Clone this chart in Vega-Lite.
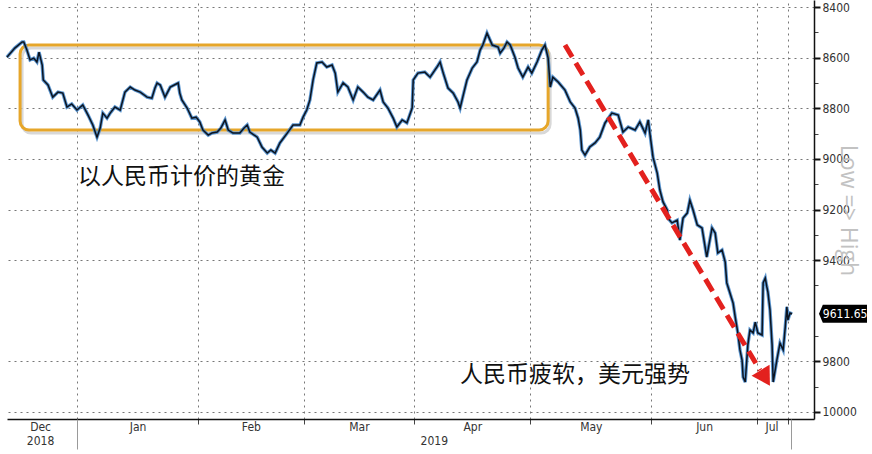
{
  "$schema": "https://vega.github.io/schema/vega-lite/v6.json",
  "width": 807,
  "height": 419,
  "autosize": "none",
  "padding": {"left": 7, "top": 0, "right": 58, "bottom": 35},
  "background": "white",
  "config": {
    "view": {"stroke": null},
    "axis": {"labelFont": "DejaVu Sans Condensed", "labelFontSize": 12, "labelColor": "#333333", "labelOverlap": false, "labelFlush": false}
  },
  "datasets": {
    "gold": [
      {"d": -13.3, "v": 8598}, {"d": -11.8, "v": 8562}, {"d": -10.4, "v": 8538}, {"d": -10.1, "v": 8538},
      {"d": -9.5, "v": 8570}, {"d": -8.9, "v": 8609}, {"d": -8.2, "v": 8602}, {"d": -7.6, "v": 8617},
      {"d": -7.2, "v": 8578}, {"d": -6.6, "v": 8629}, {"d": -6.4, "v": 8688}, {"d": -5.5, "v": 8708},
      {"d": -4.6, "v": 8756}, {"d": -3.6, "v": 8736}, {"d": -2.7, "v": 8740}, {"d": -1.9, "v": 8795},
      {"d": -1.0, "v": 8783}, {"d": 0, "v": 8807}, {"d": 1.1, "v": 8787}, {"d": 2.1, "v": 8827},
      {"d": 3.0, "v": 8866}, {"d": 3.8, "v": 8914}, {"d": 4.4, "v": 8878}, {"d": 4.9, "v": 8819},
      {"d": 5.7, "v": 8839}, {"d": 6.3, "v": 8819}, {"d": 7.2, "v": 8795}, {"d": 8.2, "v": 8807},
      {"d": 9.1, "v": 8736}, {"d": 10.1, "v": 8716}, {"d": 11.0, "v": 8728}, {"d": 12.0, "v": 8736},
      {"d": 13.3, "v": 8756}, {"d": 14.2, "v": 8760}, {"d": 14.8, "v": 8720}, {"d": 15.2, "v": 8700},
      {"d": 15.8, "v": 8708}, {"d": 16.7, "v": 8756}, {"d": 17.7, "v": 8716}, {"d": 19.2, "v": 8700},
      {"d": 19.5, "v": 8740}, {"d": 19.9, "v": 8767}, {"d": 20.9, "v": 8799}, {"d": 21.8, "v": 8839},
      {"d": 22.6, "v": 8835}, {"d": 23.3, "v": 8854}, {"d": 23.9, "v": 8886}, {"d": 24.9, "v": 8906},
      {"d": 25.6, "v": 8898}, {"d": 26.6, "v": 8894}, {"d": 27.3, "v": 8878}, {"d": 28.1, "v": 8846},
      {"d": 28.7, "v": 8886}, {"d": 29.6, "v": 8898}, {"d": 30.9, "v": 8898}, {"d": 31.7, "v": 8878},
      {"d": 32.3, "v": 8866}, {"d": 32.8, "v": 8894}, {"d": 34.2, "v": 8914}, {"d": 35.1, "v": 8953},
      {"d": 36.1, "v": 8977}, {"d": 36.8, "v": 8965}, {"d": 37.6, "v": 8977}, {"d": 38.5, "v": 8937},
      {"d": 39.9, "v": 8898}, {"d": 41.0, "v": 8866}, {"d": 42.3, "v": 8866}, {"d": 42.9, "v": 8835},
      {"d": 43.6, "v": 8807}, {"d": 44.2, "v": 8767}, {"d": 44.8, "v": 8688}, {"d": 45.5, "v": 8621},
      {"d": 46.5, "v": 8617}, {"d": 47.4, "v": 8637}, {"d": 48.4, "v": 8629}, {"d": 49.0, "v": 8661},
      {"d": 49.5, "v": 8736}, {"d": 50.5, "v": 8700}, {"d": 51.4, "v": 8716}, {"d": 52.4, "v": 8767},
      {"d": 53.3, "v": 8716}, {"d": 54.3, "v": 8736}, {"d": 55.2, "v": 8756}, {"d": 56.2, "v": 8767},
      {"d": 57.5, "v": 8728}, {"d": 58.1, "v": 8775}, {"d": 59.0, "v": 8799}, {"d": 60.0, "v": 8839},
      {"d": 60.7, "v": 8874}, {"d": 61.7, "v": 8846}, {"d": 62.6, "v": 8858}, {"d": 63.6, "v": 8799},
      {"d": 63.8, "v": 8688}, {"d": 64.7, "v": 8661}, {"d": 66.0, "v": 8657}, {"d": 67.0, "v": 8677},
      {"d": 68.3, "v": 8637}, {"d": 68.9, "v": 8617}, {"d": 69.5, "v": 8661}, {"d": 70.4, "v": 8720},
      {"d": 71.4, "v": 8740}, {"d": 72.3, "v": 8775}, {"d": 72.7, "v": 8799}, {"d": 73.2, "v": 8756},
      {"d": 74.0, "v": 8688}, {"d": 75.0, "v": 8641}, {"d": 75.9, "v": 8617}, {"d": 76.5, "v": 8570},
      {"d": 77.0, "v": 8550}, {"d": 77.8, "v": 8503}, {"d": 78.8, "v": 8550}, {"d": 79.9, "v": 8558},
      {"d": 80.3, "v": 8582}, {"d": 81.0, "v": 8562}, {"d": 81.6, "v": 8538}, {"d": 82.2, "v": 8550},
      {"d": 83.1, "v": 8598}, {"d": 83.7, "v": 8641}, {"d": 84.6, "v": 8677}, {"d": 85.6, "v": 8637},
      {"d": 86.3, "v": 8661}, {"d": 87.3, "v": 8617}, {"d": 88.2, "v": 8570}, {"d": 88.8, "v": 8550},
      {"d": 89.4, "v": 8602}, {"d": 89.8, "v": 8716}, {"d": 90.3, "v": 8677}, {"d": 91.3, "v": 8696},
      {"d": 92.6, "v": 8728}, {"d": 93.6, "v": 8775}, {"d": 94.5, "v": 8799}, {"d": 95.1, "v": 8839},
      {"d": 95.5, "v": 8886}, {"d": 95.8, "v": 8965}, {"d": 96.4, "v": 8985}, {"d": 97.3, "v": 8953},
      {"d": 98.3, "v": 8937}, {"d": 99.2, "v": 8914}, {"d": 100.2, "v": 8858}, {"d": 100.6, "v": 8846},
      {"d": 101.5, "v": 8819}, {"d": 102.7, "v": 8827}, {"d": 103.6, "v": 8894}, {"d": 104.6, "v": 8874},
      {"d": 105.9, "v": 8886}, {"d": 106.8, "v": 8854}, {"d": 107.8, "v": 8898}, {"d": 108.4, "v": 8846},
      {"d": 108.7, "v": 8898}, {"d": 109.3, "v": 8993}, {"d": 110.1, "v": 9056}, {"d": 110.6, "v": 9123},
      {"d": 111.2, "v": 9170}, {"d": 112.0, "v": 9202}, {"d": 112.1, "v": 9234}, {"d": 112.9, "v": 9253},
      {"d": 113.9, "v": 9242}, {"d": 114.4, "v": 9321}, {"d": 115.0, "v": 9234}, {"d": 115.8, "v": 9214},
      {"d": 116.3, "v": 9163}, {"d": 116.9, "v": 9202}, {"d": 117.7, "v": 9261}, {"d": 118.6, "v": 9273},
      {"d": 119.5, "v": 9388}, {"d": 120.5, "v": 9273}, {"d": 121.1, "v": 9293}, {"d": 121.6, "v": 9372},
      {"d": 122.4, "v": 9360}, {"d": 123.0, "v": 9408}, {"d": 123.3, "v": 9490}, {"d": 123.9, "v": 9530},
      {"d": 124.5, "v": 9570}, {"d": 124.9, "v": 9625}, {"d": 125.4, "v": 9688}, {"d": 125.8, "v": 9755},
      {"d": 126.2, "v": 9795}, {"d": 126.4, "v": 9862}, {"d": 126.8, "v": 9882}, {"d": 127.3, "v": 9735},
      {"d": 127.7, "v": 9676}, {"d": 128.3, "v": 9688}, {"d": 128.7, "v": 9645}, {"d": 129.2, "v": 9688},
      {"d": 130.0, "v": 9696}, {"d": 130.2, "v": 9490}, {"d": 130.6, "v": 9471}, {"d": 130.9, "v": 9506},
      {"d": 131.1, "v": 9526}, {"d": 131.5, "v": 9597}, {"d": 131.9, "v": 9735}, {"d": 132.1, "v": 9882},
      {"d": 132.8, "v": 9795}, {"d": 133.4, "v": 9728}, {"d": 134.0, "v": 9755}, {"d": 134.4, "v": 9664},
      {"d": 134.7, "v": 9585}, {"d": 134.9, "v": 9637}, {"d": 135.3, "v": 9609}, {"d": 135.7, "v": 9612}
    ],
    "box": [{"d1": -10.8, "d2": 89.4, "v1": 8550, "v2": 8886}],
    "arrow": [{"d": 92.6, "v": 8550}, {"d": 129.6, "v": 9835}],
    "head": [{"d": 130.6, "v": 9866}],
    "notes": [
      {"d": 0.2, "v": 9072, "label": "以人民币计价的黄金"},
      {"d": 72.7, "v": 9854, "label": "人民币疲软，美元强势"}
    ],
    "tag": [{"d": 145.35, "t": 145.75, "v": 9611.65, "label": "9611.65"}]
  },
  "layer": [
    {
      "data": {"name": "box"},
      "mark": {"type": "rect", "fill": "transparent", "stroke": "#c8c8c8", "strokeWidth": 3, "cornerRadius": 9, "xOffset": 2, "x2Offset": 2, "yOffset": 3, "y2Offset": 3, "opacity": 0.7},
      "encoding": {
        "x": {"field": "d1", "type": "quantitative", "scale": {"domain": [-13.28, 139.85], "nice": false, "zero": false}, "axis": null},
        "x2": {"field": "d2"},
        "y": {"field": "v1", "type": "quantitative", "scale": {"domain": [8372, 10028], "reverse": true, "nice": false, "zero": false}, "axis": null},
        "y2": {"field": "v2"}
      }
    },
    {
      "data": {"name": "box"},
      "mark": {"type": "rect", "fill": "transparent", "stroke": "#E6A62A", "strokeWidth": 3, "cornerRadius": 9},
      "encoding": {
        "x": {"field": "d1", "type": "quantitative", "scale": {"domain": [-13.28, 139.85], "nice": false, "zero": false}, "axis": null},
        "x2": {"field": "d2"},
        "y": {"field": "v1", "type": "quantitative", "scale": {"domain": [8372, 10028], "reverse": true, "nice": false, "zero": false}, "axis": null},
        "y2": {"field": "v2"}
      }
    },
    {
      "data": {"name": "gold"},
      "mark": {"type": "line", "color": "#3f84c8", "strokeWidth": 3.4, "opacity": 0.85},
      "encoding": {
        "x": {"field": "d", "type": "quantitative", "scale": {"domain": [-13.28, 139.85], "nice": false, "zero": false},
          "axis": {"orient": "bottom", "values": [0, 23, 43, 64, 86, 109, 129, 135], "labels": false, "title": null,
            "grid": true, "gridDash": [2, 4], "gridColor": "#777777", "gridWidth": 1,
            "ticks": true, "tickSize": 5, "tickColor": "#444444", "domain": true, "domainColor": "#111111", "domainWidth": 1.5}},
        "y": {"field": "v", "type": "quantitative", "scale": {"domain": [8372, 10028], "reverse": true, "nice": false, "zero": false},
          "axis": {"orient": "right", "values": [8500, 8700, 8900, 9100, 9300, 9500, 9700, 9900], "labels": false, "title": null,
            "grid": false, "domain": false, "ticks": true, "tickSize": 4, "tickColor": "#444444"}}
      }
    },
    {
      "data": {"name": "gold"},
      "mark": {"type": "line", "color": "#0c1420", "strokeWidth": 1.5},
      "encoding": {
        "x": {"field": "d", "type": "quantitative", "scale": {"domain": [-13.28, 139.85], "nice": false, "zero": false},
          "axis": {"orient": "bottom", "values": [-7, 11.5, 33, 53.5, 75, 97.5, 119, 131.8], "title": null,
            "labelExpr": "datum.value < 0 ? 'Dec' : datum.value < 20 ? 'Jan' : datum.value < 40 ? 'Feb' : datum.value < 60 ? 'Mar' : datum.value < 80 ? 'Apr' : datum.value < 100 ? 'May' : datum.value < 125 ? 'Jun' : 'Jul'",
            "labelPadding": 2, "grid": false, "ticks": false, "domain": false}},
        "y": {"field": "v", "type": "quantitative", "scale": {"domain": [8372, 10028], "reverse": true, "nice": false, "zero": false},
          "axis": {"orient": "right", "values": [8400, 8600, 8800, 9000, 9200, 9400, 9800, 10000], "format": "d",
            "grid": true, "gridDash": [2, 4], "gridColor": "#777777",
            "tickSize": 6, "tickWidth": 2, "tickColor": "#111111", "labelPadding": 2,
            "domain": true, "domainColor": "#111111", "domainWidth": 1.5,
            "title": "Low => High", "titleFont": "Open Sans", "titleFontSize": 23, "titleFontWeight": "normal", "titleColor": "#c2c2c2",
            "titleAngle": 90, "titleX": 33, "titleY": 210, "titleAlign": "center", "titleBaseline": "middle", "titleLimit": 300}}
      }
    },
    {
      "data": {"name": "arrow"},
      "mark": {"type": "line", "color": "#E3211E", "strokeWidth": 5, "strokeDash": [14, 7]},
      "encoding": {
        "x": {"field": "d", "type": "quantitative", "scale": {"domain": [-13.28, 139.85], "nice": false, "zero": false}, "axis": null},
        "y": {"field": "v", "type": "quantitative", "scale": {"domain": [8372, 10028], "reverse": true, "nice": false, "zero": false}, "axis": null}
      }
    },
    {
      "data": {"name": "head"},
      "mark": {"type": "point", "shape": "triangle-down", "filled": true, "color": "#E3211E", "size": 440, "angle": -31, "opacity": 1},
      "encoding": {
        "x": {"field": "d", "type": "quantitative", "scale": {"domain": [-13.28, 139.85], "nice": false, "zero": false}, "axis": null},
        "y": {"field": "v", "type": "quantitative", "scale": {"domain": [8372, 10028], "reverse": true, "nice": false, "zero": false}, "axis": null}
      }
    },
    {
      "data": {"name": "notes"},
      "mark": {"type": "text", "align": "left", "baseline": "middle", "font": "Noto Sans CJK SC", "fontSize": 23, "color": "#111111"},
      "encoding": {
        "x": {"field": "d", "type": "quantitative", "scale": {"domain": [-13.28, 139.85], "nice": false, "zero": false},
          "axis": {"orient": "bottom", "values": [-7, 0, 67.7, 135.5], "title": null,
            "labelExpr": "datum.value < 0 ? '2018' : (datum.value > 60 && datum.value < 100) ? '2019' : ''",
            "labelPadding": -14, "grid": false, "domain": false, "ticks": true, "tickSize": 30,
            "tickColor": {"condition": {"test": "datum.value == 0 || datum.value > 130", "value": "#9a9a9a"}, "value": "transparent"}}},
        "y": {"field": "v", "type": "quantitative", "scale": {"domain": [8372, 10028], "reverse": true, "nice": false, "zero": false}, "axis": null},
        "text": {"field": "label"}
      }
    },
    {
      "data": {"name": "tag"},
      "mark": {"type": "point", "shape": "M-1,0L-0.84,-0.375L1,-0.375L1,0.375L-0.84,0.375Z", "filled": true, "color": "#000000", "size": 2304, "opacity": 1},
      "encoding": {
        "x": {"field": "d", "type": "quantitative", "scale": {"domain": [-13.28, 139.85], "nice": false, "zero": false}, "axis": null},
        "y": {"field": "v", "type": "quantitative", "scale": {"domain": [8372, 10028], "reverse": true, "nice": false, "zero": false}, "axis": null}
      }
    },
    {
      "data": {"name": "tag"},
      "mark": {"type": "text", "align": "center", "baseline": "middle", "font": "DejaVu Sans Condensed", "fontSize": 12, "color": "#ffffff"},
      "encoding": {
        "x": {"field": "t", "type": "quantitative", "scale": {"domain": [-13.28, 139.85], "nice": false, "zero": false}, "axis": null},
        "y": {"field": "v", "type": "quantitative", "scale": {"domain": [8372, 10028], "reverse": true, "nice": false, "zero": false}, "axis": null},
        "text": {"field": "label"}
      }
    }
  ],
  "resolve": {"axis": {"x": "independent", "y": "independent"}}
}
